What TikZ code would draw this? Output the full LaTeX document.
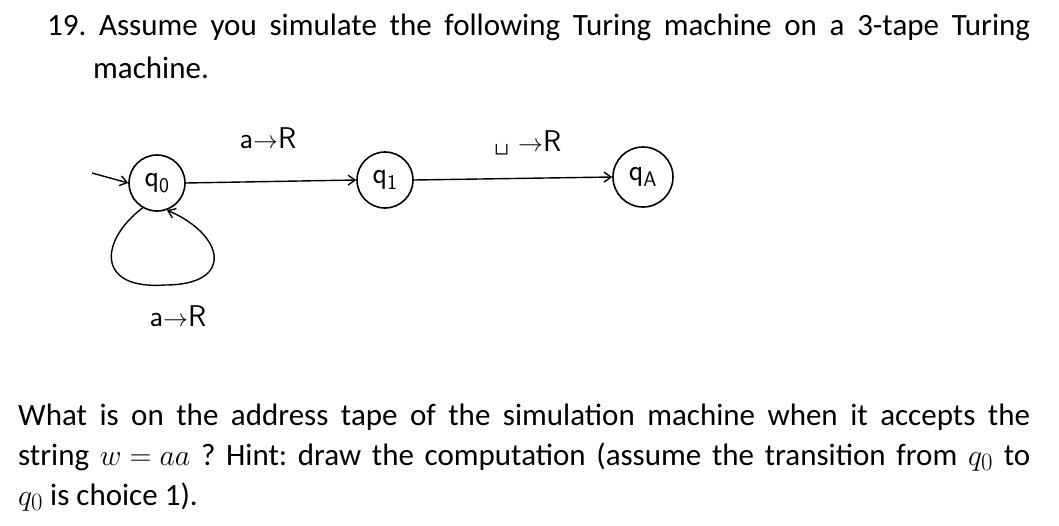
\documentclass[tikz,border=0pt]{standalone}
\usepackage{fontspec}
\setmainfont{Carlito}
\usetikzlibrary{arrows.meta}
\begin{document}
\frenchspacing
\begin{tikzpicture}[x=1pt,y=-1pt,
  txt/.style={anchor=base west,inner sep=0,font=\fontsize{31}{36}\selectfont},
  st/.style={draw,circle,line width=1.6pt,minimum size=56pt,inner sep=0},
  hand/.style={line width=1.4pt,font=\fontsize{30}{34}\selectfont\sffamily},
  edge/.style={line width=1.4pt,-{Straight Barb[length=7pt,width=10pt]}}]
\useasboundingbox (0,0) rectangle (1059,525);
\newcommand{\bm}[1]{\hbox{\scalebox{1.2}{$#1$}}}
\node[txt] (l1) at (47,35) {\makebox[983pt][s]{19. Assume you simulate the following Turing machine on a 3-tape Turing}};
\node[txt] (l2) at (93,78) {machine.};
\node[txt] (l3) at (18,425) {\makebox[1012pt][s]{What is on the address tape of the simulation machine when it accepts the}};
\node[txt] (l4) at (18,465) {\makebox[1012pt][s]{string \bm{w = aa} ? Hint: draw the computation (assume the transition from \bm{q_0} to}};
\node[txt] (l5) at (18,505) {\bm{q_0} is choice 1).};
\node[st] (q0) at (157,183) {};
\node[st] (q1) at (385,180) {};
\node[st,minimum size=60pt] (qA) at (643,177) {};
\node[hand] at (q0) {q\textsubscript{0}};
\node[hand] at (q1) {q\textsubscript{1}};
\node[hand] at (qA) {q\textsubscript{A}};
\coordinate (s) at (92,173);
\draw[edge] (s) -- (q0.west);
\draw[edge] (q0.east) -- (q1.west);
\draw[edge] (q1.east) -- (qA.west);
\draw[edge] (q0.240) .. controls (100,240) and (95,290) .. (165,285) .. controls (235,285) and (225,235) .. (q0.290);
\node[hand] (e1) at (268,138) {a$\to$R};
\node[hand] (e2) at (528,143) {\textvisiblespace\ $\to$R};
\node[hand] (e3) at (178,316) {a$\to$R};
\end{tikzpicture}
\end{document}
